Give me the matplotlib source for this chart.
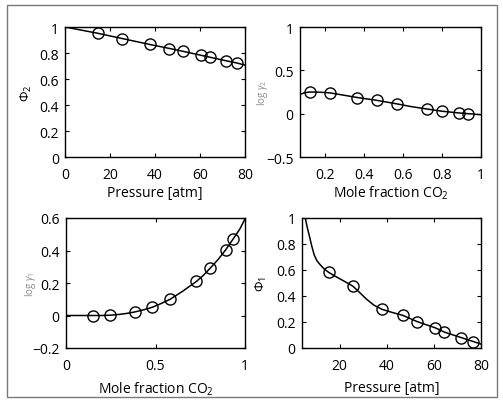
import matplotlib
matplotlib.use("Agg")
import matplotlib.pyplot as plt
from matplotlib.patches import Rectangle
from matplotlib.ticker import FuncFormatter

plt.rcParams['font.family'] = ['Open Sans', 'DejaVu Sans']
plt.rcParams['mathtext.fontset'] = 'custom'
plt.rcParams['mathtext.rm'] = 'Open Sans'
plt.rcParams['mathtext.it'] = 'Open Sans:italic'

# ---- data: Phi_2 vs pressure (top-left)
p_pts = [14.5, 25.2, 37.6, 46.4, 52.4, 60.3, 64.3, 71.4, 76.4]
phi2_pts = [0.952, 0.91, 0.866, 0.834, 0.813, 0.782, 0.767, 0.741, 0.723]
p_fit2 = [0, 14.5, 25.2, 37.6, 46.4, 52.4, 60.3, 64.3, 71.4, 76.4, 80]
phi2_fit = [1.0, 0.952, 0.912, 0.866, 0.835, 0.813, 0.783, 0.768, 0.741, 0.723, 0.707]

# ---- data: log gamma_2 vs mole fraction (top-right)
x2_pts = [0.120, 0.224, 0.363, 0.464, 0.568, 0.722, 0.800, 0.887, 0.931]
lg2_pts = [0.25, 0.238, 0.185, 0.154, 0.115, 0.054, 0.027, 0.008, 0.0]
x2_fit = [0.07, 0.09, 0.12, 0.17, 0.224, 0.29, 0.363, 0.464, 0.568, 0.64, 0.722, 0.800, 0.887, 0.931, 1.0]
lg2_fit = [0.22, 0.24, 0.25, 0.248, 0.24, 0.215, 0.187, 0.154, 0.113, 0.082, 0.054, 0.028, 0.008, 0.0, -0.012]

# ---- data: log gamma_1 vs mole fraction (bottom-left)
x1_pts = [0.15, 0.247, 0.385, 0.483, 0.582, 0.729, 0.807, 0.892, 0.933]
lg1_pts = [0.0, 0.002, 0.022, 0.051, 0.1, 0.21, 0.295, 0.404, 0.471]
x1_fit = [0.0, 0.1, 0.2, 0.25, 0.3, 0.34, 0.385, 0.43, 0.483, 0.53, 0.582, 0.65, 0.729, 0.77, 0.807, 0.85, 0.892, 0.933, 0.97, 1.0]
lg1_fit = [0.0, 0.0, 0.0, 0.002, 0.007, 0.013, 0.022, 0.034, 0.051, 0.073, 0.1, 0.148, 0.21, 0.25, 0.293, 0.345, 0.404, 0.47, 0.53, 0.594]

# ---- data: Phi_1 vs pressure (bottom-right)
p1_pts = [15.3, 25.7, 37.9, 46.8, 52.9, 60.6, 64.5, 71.6, 76.7]
phi1_pts = [0.582, 0.474, 0.297, 0.251, 0.2, 0.156, 0.12, 0.079, 0.049]
p1_fit = [5.4, 6.2, 7.1, 8.2, 9.2, 10.3, 11.5, 13.3, 15.3, 18.0, 20.0, 23.0, 25.7, 28.0, 31.3,
          34.5, 37.9, 42.0, 46.8, 52.9, 60.6, 64.5, 71.6, 76.7, 80.0]
phi1_fit = [1.0, 0.93, 0.864, 0.78, 0.715, 0.672, 0.645, 0.61, 0.582, 0.553, 0.533, 0.503, 0.474,
            0.435, 0.377, 0.33, 0.298, 0.275, 0.251, 0.203, 0.155, 0.122, 0.08, 0.05, 0.03]

fig = plt.figure(figsize=(5.03, 4.06), dpi=100)
fig.patch.set_facecolor('white')
fig.add_artist(Rectangle((7/503, 1 - 398/406), 490/503, 392/406, transform=fig.transFigure,
                         fill=False, edgecolor='#7a7a7a', linewidth=1.0))

W, H = 503.0, 406.0
def make_ax(l, r, t, b):
    return fig.add_axes([l / W, 1 - b / H, (r - l) / W, (b - t) / H])

ax1 = make_ax(65, 245, 28, 158)
ax2 = make_ax(300, 481, 28, 158)
ax3 = make_ax(66, 245, 219, 349)
ax4 = make_ax(302, 481, 219, 349)

fs = 10
fmt = FuncFormatter(lambda v, pos: ('%g' % round(v, 6)).replace('-', '\u2212'))

def style(ax):
    ax.tick_params(direction='in', top=True, right=True, length=3, width=0.8,
                   labelsize=fs)
    ax.tick_params(axis='x', pad=7)
    ax.tick_params(axis='y', pad=4.5)
    for s in ax.spines.values():
        s.set_linewidth(1.0)
    ax.xaxis.set_major_formatter(fmt)
    ax.yaxis.set_major_formatter(fmt)

mk = dict(marker='o', markersize=8, markerfacecolor='none', markeredgecolor='black',
          markeredgewidth=1.0, linestyle='none')

ax1.plot(p_fit2, phi2_fit, color='black', lw=1.1)
ax1.plot(p_pts, phi2_pts, **mk)
ax1.set_xlim(0, 80); ax1.set_ylim(0, 1)
ax1.set_xticks([0, 20, 40, 60, 80]); ax1.set_yticks([0, 0.2, 0.4, 0.6, 0.8, 1])
ax1.set_xlabel('Pressure [atm]', fontsize=fs, labelpad=2)
ax1.set_ylabel(r'$\Phi_2$', fontsize=9.5, labelpad=4)
style(ax1)

ax2.plot(x2_fit, lg2_fit, color='black', lw=1.1)
ax2.plot(x2_pts, lg2_pts, **mk)
ax2.set_xlim(0.07, 1); ax2.set_ylim(-0.5, 1)
ax2.set_xticks([0.2, 0.4, 0.6, 0.8, 1]); ax2.set_yticks([-0.5, 0, 0.5, 1])
ax2.set_xlabel('Mole fraction CO$_2$', fontsize=fs, labelpad=1)
ax2.set_ylabel(r'log $\gamma_2$', fontsize=7, color='#8a8a8a', labelpad=-3)
style(ax2)

ax3.plot(x1_fit, lg1_fit, color='black', lw=1.1)
ax3.plot(x1_pts, lg1_pts, **mk)
ax3.set_xlim(0, 1); ax3.set_ylim(-0.2, 0.6)
ax3.set_xticks([0, 0.5, 1]); ax3.set_yticks([-0.2, 0, 0.2, 0.4, 0.6])
ax3.set_xlabel('Mole fraction CO$_2$', fontsize=fs, labelpad=5)
ax3.set_ylabel(r'log $\gamma_1$', fontsize=7, color='#8a8a8a', labelpad=-4)
style(ax3)

ax4.plot(p1_fit, phi1_fit, color='black', lw=1.1)
ax4.plot(p1_pts, phi1_pts, **mk)
ax4.set_xlim(4, 80); ax4.set_ylim(0, 1)
ax4.set_xticks([20, 40, 60, 80]); ax4.set_yticks([0, 0.2, 0.4, 0.6, 0.8, 1])
ax4.set_xlabel('Pressure [atm]', fontsize=fs, labelpad=5)
ax4.set_ylabel(r'$\Phi_1$', fontsize=9.5, labelpad=5)
style(ax4)

fig.savefig('out.png', dpi=100, facecolor='white')
